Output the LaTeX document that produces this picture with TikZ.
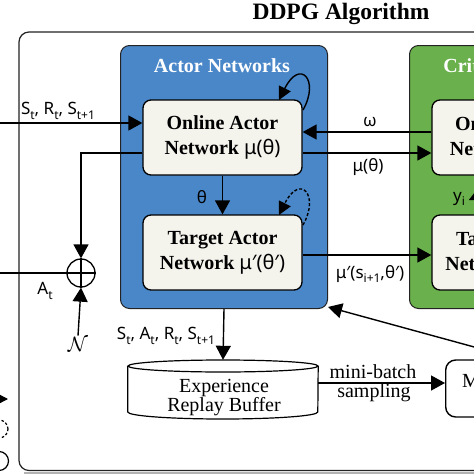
\documentclass[tikz,border=0pt]{standalone}
\usepackage{fontspec}
\setmainfont{Liberation Serif}
\newfontfamily\labfont{Noto Sans}
\usetikzlibrary{arrows.meta,calc}
\definecolor{actorblue}{RGB}{74,135,200}
\definecolor{criticgreen}{RGB}{106,176,76}
\definecolor{boxfill}{RGB}{244,243,236}
\definecolor{edgecol}{RGB}{35,35,35}
\newcommand\lsub[1]{\raisebox{-0.28em}{\fontsize{12}{12}\selectfont #1}}
\begin{document}
\begin{tikzpicture}[x=1pt,y=-1pt,
  netbox/.style={draw=black, line width=1.3pt, fill=boxfill, rounded corners=8pt,
    minimum width=159pt, minimum height=75pt, align=center, inner sep=0pt,
    font=\fontsize{20}{25}\selectfont\bfseries},
  groupbox/.style={draw=edgecol, line width=1pt, rounded corners=9pt,
    minimum width=207pt, minimum height=263pt, anchor=north west, inner sep=0pt},
  grouptitle/.style={text=white, font=\fontsize{20}{20}\selectfont\bfseries, inner sep=0pt},
  lab/.style={font=\labfont\fontsize{17}{18}\selectfont, inner sep=0pt},
  ser/.style={font=\fontsize{20}{19}\selectfont, inner sep=0pt, align=center},
  arr/.style={line width=1.4pt, -{Triangle[length=14pt,width=15pt]}},
  looparr/.style={line width=1.4pt, -{Triangle[length=13pt,width=13pt]}},
  plain/.style={line width=1.4pt}
]
\useasboundingbox (0,0) rectangle (474,474);
\clip (0,0) rectangle (474,474);
\fill[white] (0,0) rectangle (474,474);

% outer frame
\draw[line width=1.2pt, draw=edgecol, rounded corners=10pt] (19,32) rectangle (620,470.5);
\fill[black!30] (24,471.5) rectangle (474,474);

% title
\node[font=\fontsize{23.5}{24}\selectfont\bfseries, inner sep=0pt] (title) at (341,14) {DDPG Algorithm};

% group boxes
\node[groupbox, fill=actorblue] (actor) at (120,45) {};
\node[groupbox, fill=criticgreen] (critic) at (409,45) {};
\node[grouptitle] (actortitle) at (222,66) {Actor Networks};
\node[grouptitle] (critictitle) at (512,66) {Critic Networks};

% networks
\node[netbox] (onact) at (222.5,137.5) {Online Actor\\Network {\mdseries\labfont μ(θ)}};
\node[netbox] (tgact) at (222.5,252.5) {Target Actor\\Network {\mdseries\labfont μ′(θ′)}};
\node[netbox] (oncrit) at (511.5,137.5) {Online Critic\\Network {\mdseries\labfont Q(ω)}};
\node[netbox] (tgcrit) at (511.5,252.5) {Target Critic\\Network {\mdseries\labfont Q′(ω′)}};

% self loops
\coordinate (la0) at (303,110);
\coordinate (la1) at (279,100);
\draw[looparr] (la0) .. controls (320,80) and (300,58) .. (la1);
\coordinate (lb0) at (303,225);
\coordinate (lb1) at (279,215);
\draw[looparr, dash pattern=on 3pt off 2pt] (lb0) .. controls (320,195) and (300,173) .. (lb1);

% theta
\draw[arr] (onact.south) -- (tgact.north);
\node[lab] (lth) at (202,197) {θ};

% sum node and noise
\node[circle, draw, line width=1.3pt, minimum size=28pt, inner sep=0pt] (sum) at (81,273) {};
\draw[line width=1.2pt] (sum.north) -- (sum.south) (sum.west) -- (sum.east);
\node[font=\fontsize{22}{22}\selectfont, inner sep=1pt] (noise) at (78,344) {$\mathcal{N}$};
\draw[arr] (noise.north) -- (sum.south);
\draw[arr] ($(onact.west)+(0,15.5)$) -| (sum.north);
\coordinate (outA) at (0,273);
\draw[plain] (sum.west) -- (outA);
\node[lab] (lA) at (45,291) {A\lsub{t}};

% input
\coordinate (inS) at (0,123);
\draw[arr] (inS) -- (inS -| onact.west);
\node[lab] (lS) at (58,111) {S\lsub{t}, R\lsub{t}, S\lsub{t+1}};

% actor <-> critic
\draw[arr] ($(oncrit.west)+(0,-5.5)$) -- ($(onact.east)+(0,-5.5)$);
\node[lab] (lom) at (370,122) {ω};
\draw[arr] ($(onact.east)+(0,15.5)$) -- ($(oncrit.west)+(0,15.5)$);
\node[lab] (lmu) at (368,167) {μ(θ)};
\draw[arr] ($(tgact.east)+(0,2.5)$) -- ($(tgcrit.west)+(0,2.5)$);
\node[lab] (lmup) at (370,274) {μ′(s\lsub{i+1},θ′)};

% y_i
\coordinate (yitip) at (475,192);
\draw[line width=1.4pt, -{Triangle[length=8pt,width=12pt]}] ($(tgcrit.north)+(-36.5,0)$) -- (yitip);
\node[lab] (lyi) at (459,199) {y\lsub{i}};

% replay buffer
\node[minimum width=190pt, minimum height=58pt, inner sep=0pt] (buf) at (223,389) {};
\draw[line width=1.2pt, fill=white] (buf.north west |- 0,366) -- (buf.north west |- 0,412)
  arc[start angle=180, end angle=360, x radius=95pt, y radius=7pt] -- (buf.north east |- 0,366);
\draw[line width=1.2pt, fill=white] (223,366) ellipse [x radius=95pt, y radius=6pt];
\node[ser] (buftext) at (224,398) {Experience\\Replay Buffer};
\draw[arr] (actor.south) -- (buf.north);
\node[lab] (lbuf) at (166,336) {S\lsub{t}, A\lsub{t}, R\lsub{t}, S\lsub{t+1}};

% mini-batch box
\node[draw, line width=1.4pt, rounded corners=10pt, minimum width=150pt, minimum height=57pt, anchor=west, inner sep=0pt] (mbox) at (445,388.5) {};
\node[ser, anchor=base west] (mtext) at (462,387) {Mini-batch};
\draw[arr] ($(buf.east)+(0,-6)$) -- ($(mbox.west)+(0,-5.5)$);
\node[ser] (lmb1) at (373,372) {mini-batch};
\node[ser] (lmb2) at (374,393) {sampling};

\coordinate (mfar) at (540,365);
\draw[arr] (mfar) -- ($(actor.south east)+(0,-2)$);

% legend fragments at left
\coordinate (legA) at (-30,399);
\coordinate (legB) at (8,399);
\draw[line width=1.2pt, -{Triangle[length=8pt,width=8pt]}] (legA) -- (legB);
\draw[line width=1.2pt, dash pattern=on 2.5pt off 2pt] (-1,429) circle[radius=9pt];
\draw[line width=1.2pt] (-1,461) circle[radius=9.5pt];
\end{tikzpicture}
\end{document}
